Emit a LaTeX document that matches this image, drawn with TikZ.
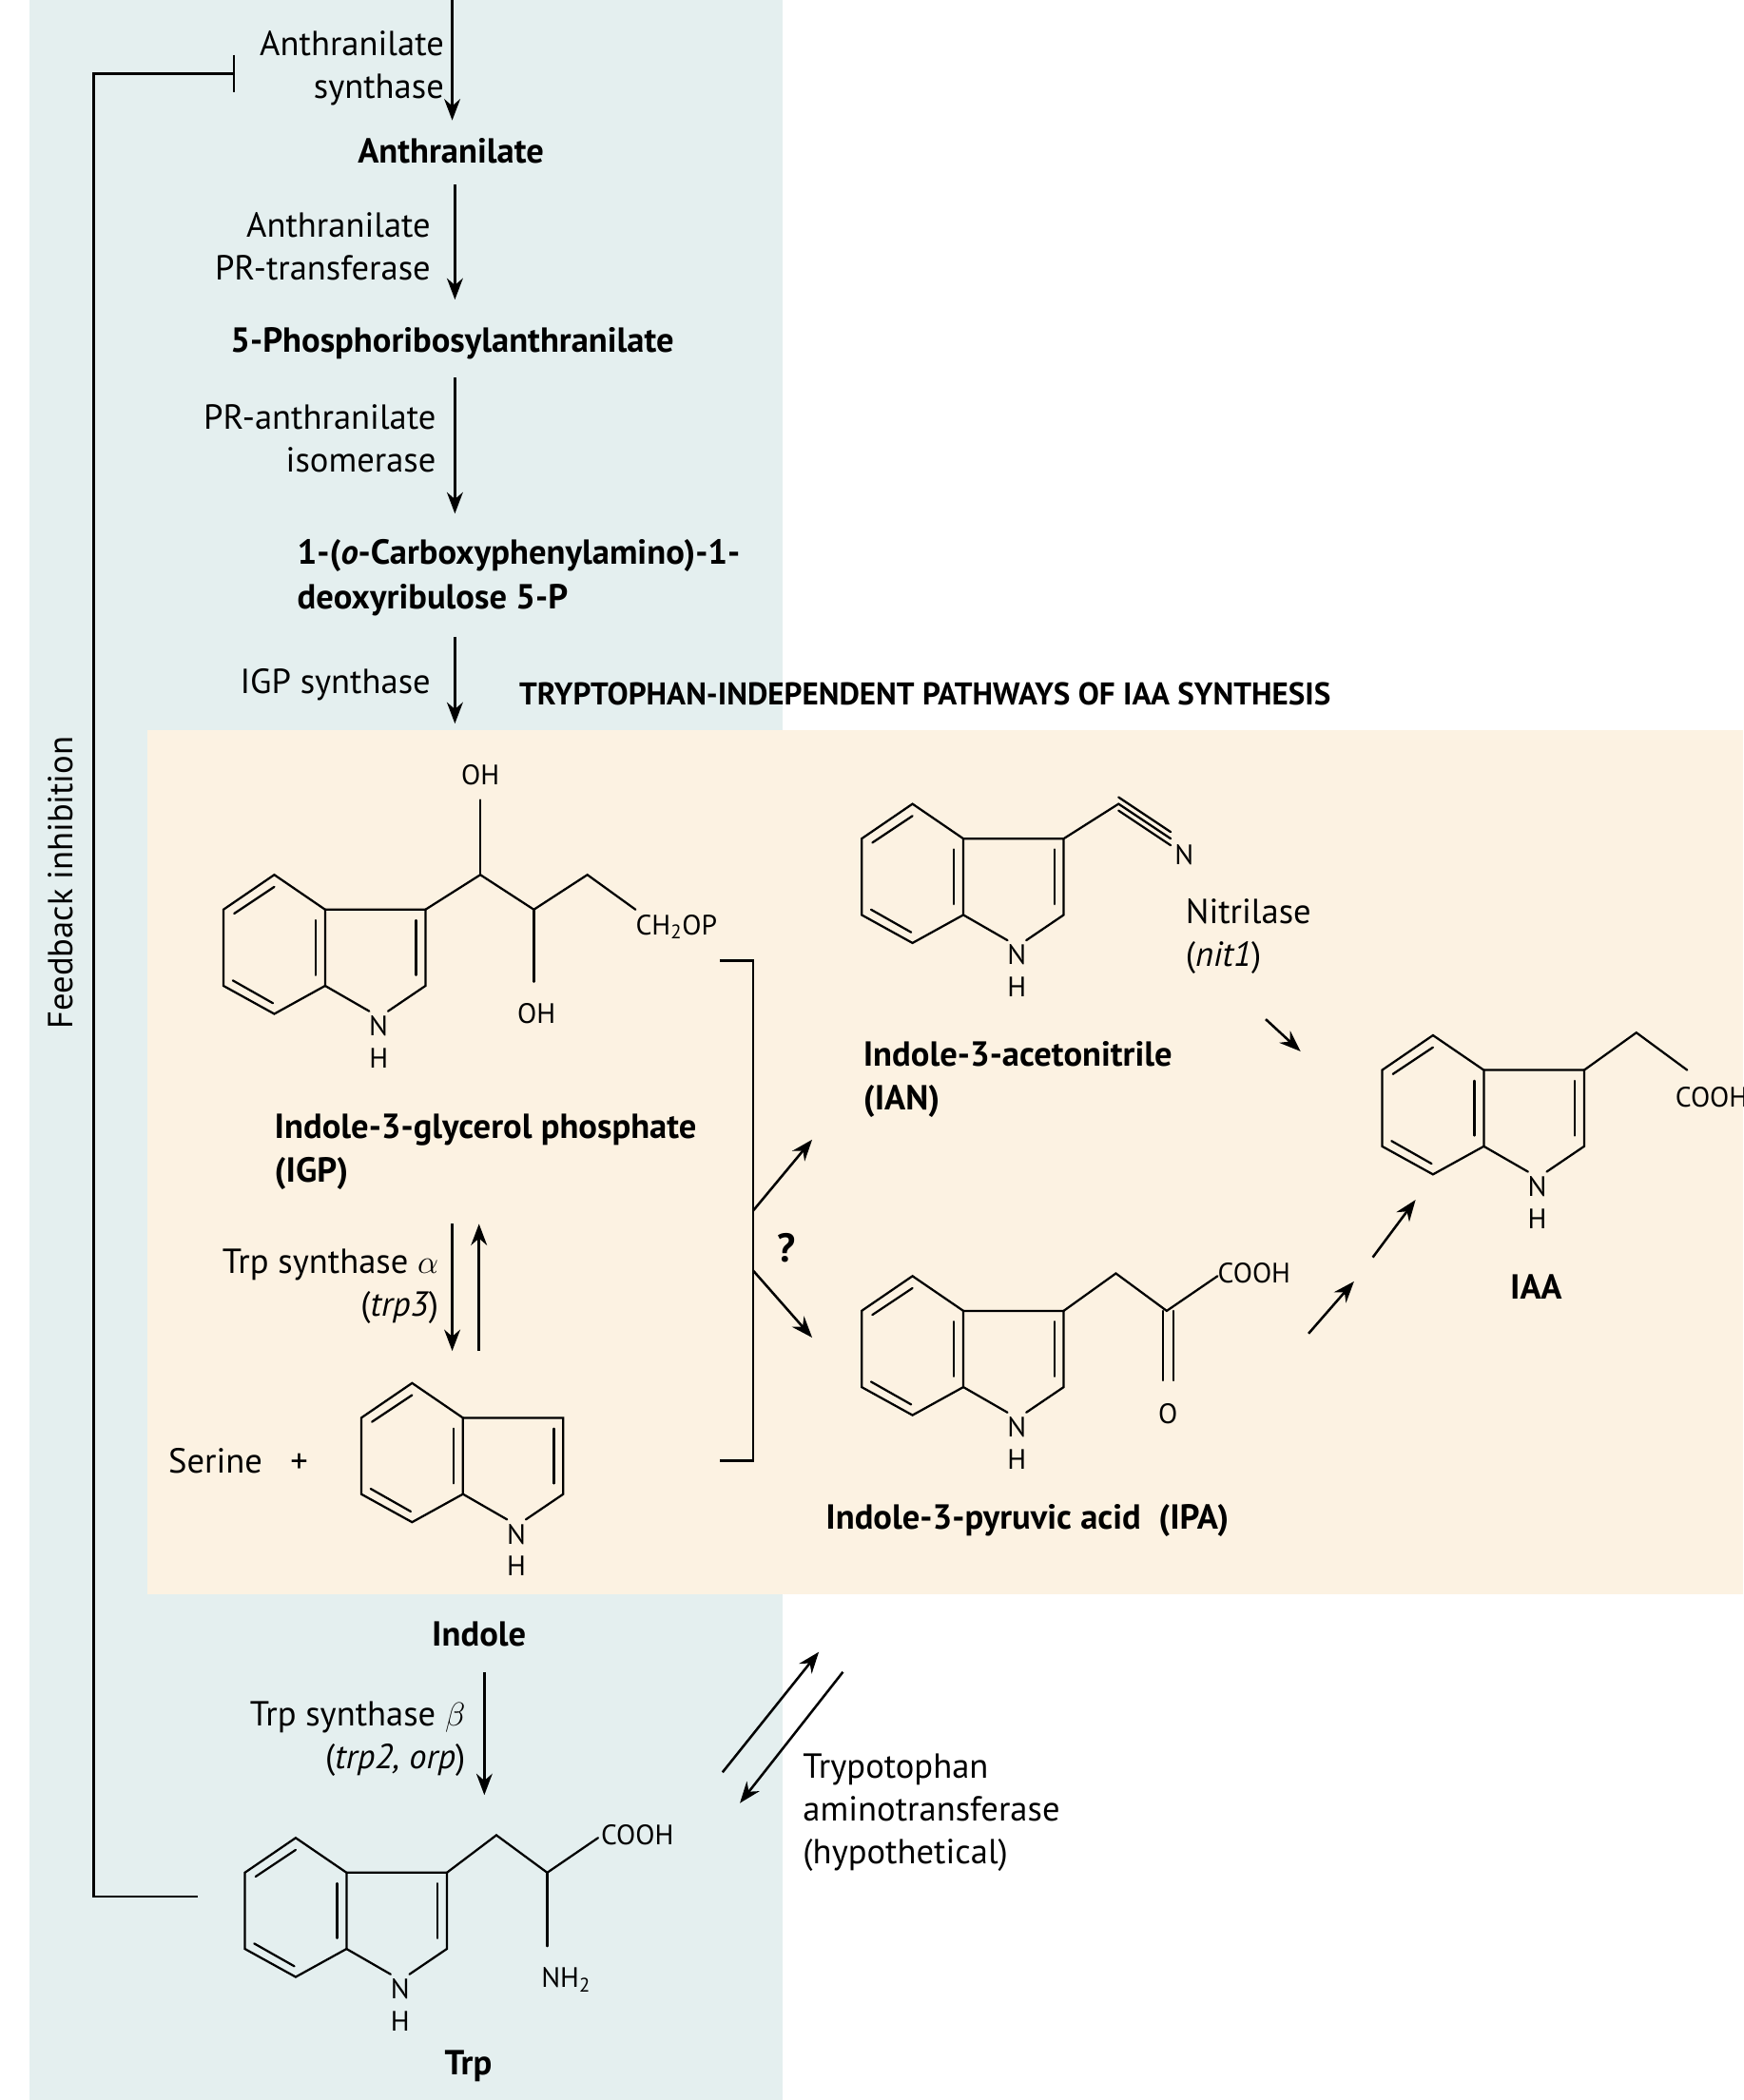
\documentclass[tikz,border=0pt]{standalone}
\usepackage{fontspec}
\setmainfont{PT Sans}
\usetikzlibrary{arrows.meta}
\definecolor{bluebg}{HTML}{E4EFEF}
\definecolor{peach}{HTML}{FCF2E2}
\tikzset{
  bond/.style={line width=1.6pt, line cap=round},
  arr/.style={line width=1.8pt,-{Stealth[length=16pt,width=12pt]}},
  lab/.style={font=\fontsize{26}{32}\selectfont, inner sep=0pt},
  blab/.style={font=\fontsize{26}{33}\selectfont\bfseries, inner sep=0pt},
  atom/.style={font=\fontsize{21}{24}\selectfont, inner sep=0pt},
}
\newcommand{\indolering}[3]{%
 \begin{scope}[shift={(#2,#3)}]
  \coordinate (#1a) at (0,0);
  \coordinate (#1b) at (0,57);
  \coordinate (#1c3) at (75,0);
  \coordinate (#1c2) at (75,57);
  \draw[bond] (-38,-26) -- (-76,0) -- (-76,57) -- (-38,78) -- (0,57) -- (0,0) -- cycle;
  \draw[bond] (-68,3) -- (-38,-17);
  \draw[bond] (-69,53) -- (-39,70);
  \draw[bond] (-7,8) -- (-7,49);
  \draw[bond] (0,0) -- (75,0) -- (75,57) -- (47,76);
  \draw[bond] (68,8) -- (68,49);
  \draw[bond] (0,57) -- (33,76);
  \node[atom] (#1N) at (40,87) {N};
  \node[atom] (#1H) at (40,111) {H};
 \end{scope}}
\begin{document}
\begin{tikzpicture}[x=1pt,y=-1pt]
\useasboundingbox (0,0) rectangle (1303,1570);
\fill[white] (0,0) rectangle (1303,1570);
\fill[bluebg] (22,0) rectangle (585,1570);
\fill[peach] (110,546) rectangle (1303,1192);

% main pathway
\coordinate (top) at (338,0);
\node[blab] (anth) at (337,113) {Anthranilate};
\draw[arr] (top) -- (338,90);
\node[lab,align=right,anchor=east] (e1) at (332,51) {Anthranilate\\synthase};
\node[blab] (prant) at (338,257) {5-Phosphoribosylanthranilate};
\draw[arr] (340,138) -- (340,224);
\node[lab,align=right,anchor=east] (e2) at (322,184) {Anthranilate\\PR-transferase};
\node[blab,align=left,anchor=west] (cdrp) at (222,432) {1-(\textit{o}-Carboxyphenylamino)-1-\\deoxyribulose 5-P};
\draw[arr] (340,282) -- (340,384);
\node[lab,align=right,anchor=east] (e3) at (326,328) {PR-anthranilate\\isomerase};
\draw[arr] (340,476) -- (340,541);
\node[lab,anchor=east] (e4) at (322,512) {IGP synthase};
\node[blab,anchor=west,font=\fontsize{23.5}{26}\selectfont\bfseries] (title) at (388,519) {TRYPTOPHAN-INDEPENDENT PATHWAYS OF IAA SYNTHESIS};

% feedback inhibition
\coordinate (fb1) at (70,55);
\coordinate (fb2) at (70,1418);
\coordinate (fbend) at (148,1418);
\coordinate (bar) at (175,55);
\draw[line width=1.8pt] (bar) -- (fb1) -- (fb2) -- (fbend);
\draw[line width=1.8pt] (175,41) -- (175,69);
\node[lab,rotate=90] (fbt) at (45,660) {Feedback inhibition};

% IGP
\indolering{igp}{243}{680}
\begin{scope}[shift={(243,680)}]
 \draw[bond] (75,0) -- (116,-26) -- (156,0) -- (196,-26) -- (232,0);
 \draw[bond] (116,-26) -- (116,-82);
 \node[atom] (igpoh1) at (116,-101) {OH};
 \draw[bond] (156,0) -- (156,54);
 \node[atom] (igpoh2) at (158,78) {OH};
 \node[atom,anchor=west] (ch2op) at (232,13) {CH\textsubscript{2}OP};
\end{scope}
\node[blab,align=left,anchor=west] (igpl) at (205,861) {Indole-3-glycerol phosphate\\(IGP)};

\draw[arr] (338,915) -- (338,1010);
\draw[arr] (358,1010) -- (358,915);
\node[lab,align=right,anchor=east] (e5) at (328,962) {Trp synthase $\alpha$\\(\textit{trp3})};

% Indole
\node[lab] (ser) at (178,1092) {Serine \ \ +};
\indolering{ind}{346}{1060}
\node[blab] (indl) at (358,1222) {Indole};

% bracket
\coordinate (br1) at (538,718);
\coordinate (br2) at (563,718);
\coordinate (br3) at (563,1092);
\coordinate (br4) at (538,1092);
\draw[line width=1.8pt] (br1) -- (br2) -- (br3) -- (br4);
\coordinate (q1) at (563,905);
\coordinate (q2) at (563,950);
\draw[arr] (q1) -- (607,852);
\draw[arr] (q2) -- (607,1000);
\node[blab,font=\fontsize{30}{32}\selectfont\bfseries] (q) at (588,933) {?};

% IAN
\indolering{ian}{720}{627}
\begin{scope}[shift={(720,627)}]
 \draw[bond] (75,0) -- (116,-26) -- (155,0);
 \draw[bond] (116,-26) ++(0,-5) -- ++(39,26);
 \draw[bond] (116,-26) ++(0,5) -- ++(39,26);
\end{scope}
\node[atom] (iann) at (885,639) {N};
\node[blab,align=left,anchor=west] (ianl) at (645,807) {Indole-3-acetonitrile\\(IAN)};
\node[lab,align=left,anchor=west] (nit) at (886,700) {Nitrilase\\(\textit{nit1})};
\draw[arr] (946,762) -- (972,786);

% IPA
\indolering{ipa}{720}{980}
\begin{scope}[shift={(720,980)}]
 \draw[bond] (75,0) -- (114,-28) -- (152,0) -- (190,-26);
 \draw[bond] (149,0) -- (149,52);
 \draw[bond] (157,0) -- (157,52);
 \node[atom] (ipao) at (153,77) {O};
 \node[atom,anchor=west] (ipac) at (190,-28) {COOH};
\end{scope}
\node[blab,anchor=west] (ipal) at (617,1137) {Indole-3-pyruvic acid \ (IPA)};
\draw[arr] (978,997) -- (1012,958);
\draw[arr] (1026,940) -- (1058,897);

% IAA
\indolering{iaa}{1109}{800}
\begin{scope}[shift={(1109,800)}]
 \draw[bond] (75,0) -- (114,-28) -- (152,0);
 \node[atom,anchor=west] (iaac) at (143,20) {COOH};
\end{scope}
\node[blab] (iaal) at (1148,962) {IAA};

% Trp synthase beta
\draw[arr] (362,1250) -- (362,1342);
\node[lab,align=right,anchor=east] (e6) at (348,1300) {Trp synthase $\beta$\\(\textit{trp2, orp})};

% aminotransferase
\draw[arr] (540,1325) -- (612,1235);
\draw[arr] (630,1250) -- (553,1348);
\node[lab,align=left,anchor=west] (amt) at (600,1355) {Trypotophan\\aminotransferase\\(hypothetical)};

% Trp
\indolering{trp}{259}{1400}
\begin{scope}[shift={(259,1400)}]
 \draw[bond] (75,0) -- (112,-28) -- (150,0) -- (188,-26);
 \draw[bond] (150,0) -- (150,55);
 \node[atom,anchor=west] (trpc) at (190,-28) {COOH};
 \node[atom] (trpn) at (164,80) {NH\textsubscript{2}};
\end{scope}
\node[blab] (trpl) at (350,1545) {Trp};
\end{tikzpicture}
\end{document}
